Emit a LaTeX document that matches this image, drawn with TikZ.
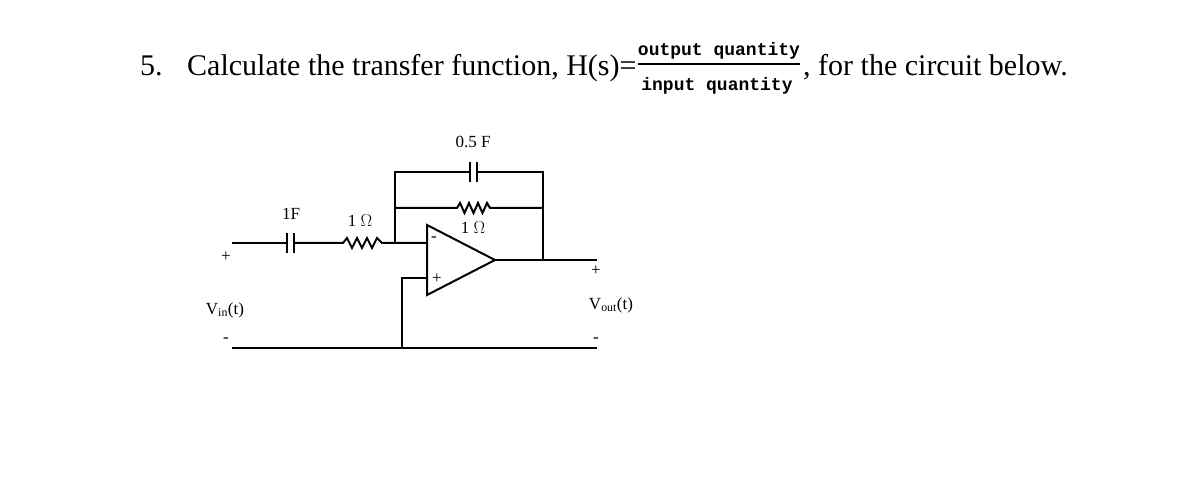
\documentclass[tikz,border=0pt]{standalone}
\usepackage{fontspec}
\setmainfont{Liberation Serif}
\newfontfamily\mono{Liberation Mono}
\begin{document}
\begin{tikzpicture}[x=1pt,y=-1pt,
 w/.style={line width=2pt},
 lbl/.style={inner sep=0pt,font=\fontsize{17}{17}\selectfont},
 big/.style={inner sep=0pt,font=\fontsize{30}{30}\selectfont,anchor=base west}]
\useasboundingbox (0,0) rectangle (1200,481);
\node[big] (num) at (140,76) {5.};
\node[big] (t1) at (187,76) {Calculate the transfer function, H(s)=};
\node[inner sep=0pt,font=\mono\bfseries\fontsize{18}{18}\selectfont,anchor=base] (n) at (719,56) {output quantity};
\node[inner sep=0pt,font=\mono\bfseries\fontsize{18}{18}\selectfont,anchor=base] (d) at (717,91) {input quantity};
\draw[line width=1.2pt] (638,64) -- (800,64);
\node[big] (t2) at (803,76) {, for the circuit below.};
% circuit coordinates
\coordinate (inL) at (232,243);
\coordinate (c1a) at (287,243); \coordinate (c1b) at (294,243);
\coordinate (r1a) at (343,243); \coordinate (r1b) at (382,243);
\coordinate (nd) at (395,243);
\coordinate (om) at (427,243); \coordinate (op) at (427,278);
\coordinate (gp) at (402,278); \coordinate (gg) at (402,348);
\coordinate (gL) at (232,348); \coordinate (gR) at (597,348);
\coordinate (tip) at (495,260); \coordinate (outR) at (597,260);
\coordinate (fb) at (543,260);
\coordinate (ftL) at (395,172); \coordinate (ftR) at (543,172);
\coordinate (fc1) at (470,172); \coordinate (fc2) at (477,172);
\coordinate (frL) at (395,208); \coordinate (frR) at (543,208);
\coordinate (fr1) at (457,208); \coordinate (fr2) at (490,208);
\draw[w] (inL) -- (c1a); \draw[w] (c1a)+(0,-10) -- +(0,10); \draw[w] (c1b)+(0,-10) -- +(0,10);
\draw[w] (c1b) -- (r1a) -- ++(4,-5) -- ++(5,10) -- ++(5,-10) -- ++(5,10) -- ++(5,-10) -- ++(5,10) -- ++(5,-10) -- ++(5,5) -- (r1b) -- (nd) -- (om);
\draw[w] (427,225) -- (tip) -- (427,295) -- cycle;
\draw[w] (op) -- (gp) -- (gg);
\draw[w] (gL) -- (gR);
\draw[w] (tip) -- (outR);
\draw[w] (nd) -- (ftL) -- (fc1); \draw[w] (fc2) -- (ftR) -- (fb);
\draw[w] (fc1)+(0,-10) -- +(0,10); \draw[w] (fc2)+(0,-10) -- +(0,10);
\draw[w] (frL) -- (fr1) -- ++(3,-5) -- ++(4.5,10) -- ++(4.5,-10) -- ++(4.5,10) -- ++(4.5,-10) -- ++(4.5,10) -- ++(4.5,-10) -- ++(3,5) -- (fr2) -- (frR);
\node[lbl] (lm) at (434,239) {-};
\node[lbl] (lp) at (437,279) {+};
\node[lbl] (l05) at (473,142) {0.5 F};
\node[lbl] (lr2) at (473,228) {1 $\Omega$};
\node[lbl] (lc1) at (291,214) {1F};
\node[lbl] (lr1) at (360,221) {1 $\Omega$};
\node[lbl] (vp) at (226,257) {+};
\node[lbl] (vin) at (225,310) {V\textsubscript{in}(t)};
\node[lbl] (vm) at (226,340) {-};
\node[lbl] (op2) at (596,271) {+};
\node[lbl] (vout) at (611,305) {V\textsubscript{out}(t)};
\node[lbl] (om2) at (596,340) {-};
\end{tikzpicture}
\end{document}
